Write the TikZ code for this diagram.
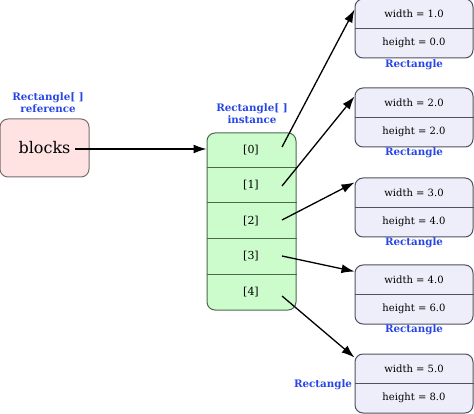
\documentclass[tikz,border=0pt]{standalone}
\usepackage{fontspec}
\setmainfont{DejaVu Serif}
\usetikzlibrary{arrows.meta}
\definecolor{lblue}{RGB}{40,70,230}
\definecolor{pinkfill}{RGB}{255,226,226}
\definecolor{pinkline}{RGB}{120,110,110}
\definecolor{greenfill}{RGB}{204,252,204}
\definecolor{greenline}{RGB}{75,105,75}
\definecolor{lavfill}{RGB}{238,238,250}
\definecolor{lavline}{RGB}{80,80,95}
\tikzset{
  refbox/.style={draw=pinkline, fill=pinkfill, rounded corners=8pt, line width=1pt,
    minimum width=89pt, minimum height=58pt, inner sep=0pt, font=\fontsize{16}{18}\selectfont},
  arrbox/.style={draw=greenline, fill=greenfill, rounded corners=8pt, line width=1pt,
    minimum width=89pt, minimum height=177pt, inner sep=0pt},
  objbox/.style={draw=lavline, fill=lavfill, rounded corners=8pt, line width=1pt,
    minimum width=118pt, minimum height=59pt, inner sep=0pt},
  celltext/.style={font=\fontsize{11}{13}\selectfont, inner sep=0pt},
  fieldtext/.style={font=\fontsize{10}{12}\selectfont, inner sep=0pt},
  lbl/.style={font=\bfseries\fontsize{10.3}{12}\selectfont, text=lblue, align=center, inner sep=0pt},
  ptr/.style={line width=1.3pt, -{Latex[length=13pt,width=9pt]}},
}
\begin{document}
\begin{tikzpicture}[x=1pt,y=-1pt]
\useasboundingbox (0,0) rectangle (474,414);

% reference variable
\node[refbox] (blocks) at (44.5,148) {blocks};
\node[lbl] (reflbl) at (48,103) {Rectangle[ ]\\reference};

% array instance
\node[arrbox] (arr) at (251.5,221.5) {};
\node[lbl] (arrlbl) at (252,114) {Rectangle[ ]\\instance};
\foreach \yy in {168,203,239,274}
  \draw[greenline, line width=1pt] (arr.west |- 0,\yy) -- (arr.east |- 0,\yy);
\node[celltext] (c0) at (251,150.5) {[0]};
\node[celltext] (c1) at (251,185.5) {[1]};
\node[celltext] (c2) at (251,221) {[2]};
\node[celltext] (c3) at (251,256.5) {[3]};
\node[celltext] (c4) at (251,292) {[4]};
\coordinate (p0) at (282,147);
\coordinate (p1) at (282,186);
\coordinate (p2) at (282,220);
\coordinate (p3) at (282,256);
\coordinate (p4) at (282,296);

% rectangle objects
\foreach \i/\cy/\w/\h in {0/28.5/1.0/0.0, 1/117.5/2.0/2.0, 2/207.5/3.0/4.0, 3/294.5/4.0/6.0, 4/383.5/5.0/8.0}{
  \node[objbox] (r\i) at (414,\cy) {};
  \draw[lavline, line width=1pt] (r\i.west) -- (r\i.east);
  \node[fieldtext] (w\i) at (414,\cy-14.5) {width = \w};
  \node[fieldtext] (h\i) at (414,\cy+14.5) {height = \h};
}
\node[lbl] (l0) at (414,65) {Rectangle};
\node[lbl] (l1) at (414,153) {Rectangle};
\node[lbl] (l2) at (414,243) {Rectangle};
\node[lbl] (l3) at (414,330) {Rectangle};
\node[lbl] (l4) at (323,385) {Rectangle};

\coordinate (t0) at ([yshift=-11pt]r0.north west);
\coordinate (t1) at ([yshift=-9pt]r1.north west);
\coordinate (t2) at ([yshift=-5pt]r2.north west);
\coordinate (t3) at ([yshift=-7pt]r3.north west);
\coordinate (t4) at ([yshift=-4pt]r4.north west);

% pointers
\coordinate (bs) at (75,149);
\draw[ptr] (bs) -- (arr.west |- bs);
\draw[ptr] (p0) -- (t0);
\draw[ptr] (p1) -- (t1);
\draw[ptr] (p2) -- (t2);
\draw[ptr] (p3) -- (t3);
\draw[ptr] (p4) -- (t4);
\end{tikzpicture}
\end{document}
